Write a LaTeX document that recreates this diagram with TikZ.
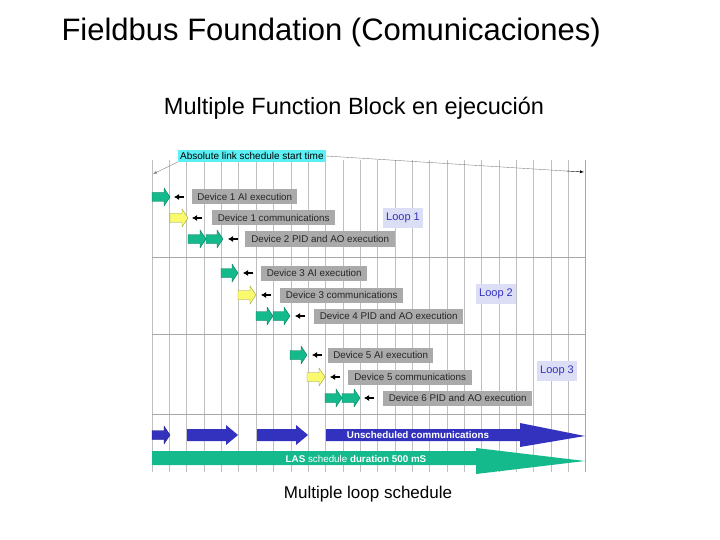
\documentclass[tikz,border=0pt]{standalone}
\usepackage{fontspec}
\usetikzlibrary{arrows.meta}
\setmainfont{Liberation Sans}
\definecolor{grn}{RGB}{20,185,140}
\definecolor{yel}{RGB}{250,250,110}
\definecolor{blu}{RGB}{50,50,190}
\definecolor{gbox}{RGB}{170,170,170}
\definecolor{lbox}{RGB}{220,222,245}
\definecolor{cyb}{RGB}{90,240,245}
\begin{document}
\begin{tikzpicture}[x=1pt,y=-1pt,
  lbl/.style={fill=gbox,anchor=west,inner sep=2pt,minimum height=15pt,font=\fontsize{9.8}{10}\selectfont,text=black!85},
  loopbox/.style={fill=lbox,inner sep=3pt,minimum height=20pt,font=\fontsize{11}{12}\selectfont,text=blu},
  grid/.style={gray!50,line width=0.6pt},
  pt/.style={-{Latex[length=5pt,width=6pt]},line width=1.3pt}]
\useasboundingbox (0,0) rectangle (720,540);
\node[anchor=west,font=\fontsize{31}{33}\selectfont] (t) at (58,32) {Fieldbus Foundation (Comunicaciones)};
\node[font=\fontsize{23.5}{25}\selectfont] (st) at (354,108) {Multiple Function Block en ejecución};
\node[font=\fontsize{17}{19}\selectfont] (bt) at (368,494) {Multiple loop schedule};
% grid
\foreach \i in {0,...,24} \draw[grid] (152+\i*17.35,160) -- (152+\i*17.35,472);
\draw[gray!70,line width=1pt] (585.7,160) -- (585.7,472);
\foreach \y in {257,334,414} \draw[gray!70,line width=1pt] (152,\y) -- (585.7,\y);
% top
\node[fill=cyb,anchor=west,inner sep=2pt,font=\fontsize{10}{11}\selectfont] (abs) at (178,156) {Absolute link schedule start time};
\coordinate (s0) at (153,174);
\coordinate (s1) at (566,171);
\coordinate (s2) at (584,172);
\draw[gray,-latex] (abs.south west) -- (s0);
\draw[gray] (abs.east) -- (s1);
\draw[-latex] (s1) -- (s2);
% arrow macro
\newcommand\barr[4]{% x0 x1 y color
  \fill[#4,draw=#4!60!black,line width=0.3pt] (#1,#3-4.5) -- (#2-6,#3-4.5) -- (#2-6,#3-9) -- (#2,#3) -- (#2-6,#3+9) -- (#2-6,#3+4.5) -- (#1,#3+4.5) -- cycle;}
\newcommand\pointer[2]{\draw[pt] (#1+10,#2) -- (#1,#2);}
% loop 1
\barr{152}{170}{197}{grn}
\barr{170}{188}{218}{yel}
\barr{188}{206}{239}{grn}\barr{206}{223}{239}{grn}
\pointer{174}{197}\pointer{192}{218}\pointer{228}{239}
\node[lbl,minimum width=105pt] (d1) at (192,197) {Device 1 AI execution};
\node[lbl,minimum width=123pt] (c1) at (212,218) {Device 1 communications};
\node[lbl,minimum width=150pt] (d2) at (245,239) {Device 2 PID and AO execution};
\node[loopbox] (l1) at (403,218) {Loop 1};
% loop 2
\barr{221}{238}{273}{grn}
\barr{238}{256}{295}{yel}
\barr{256}{273}{316}{grn}\barr{273}{290}{316}{grn}
\pointer{243}{273}\pointer{261}{295}\pointer{295}{316}
\node[lbl,minimum width=106pt] (d3) at (261,273) {Device 3 AI execution};
\node[lbl,minimum width=123pt] (c3) at (280,295) {Device 3 communications};
\node[lbl,minimum width=149pt] (d4) at (314,316) {Device 4 PID and AO execution};
\node[loopbox] (l2) at (496,294) {Loop 2};
% loop 3
\barr{290}{307}{355}{grn}
\barr{307}{325}{377}{yel}
\barr{325}{342}{398}{grn}\barr{342}{360}{398}{grn}
\pointer{312}{355}\pointer{330}{377}\pointer{364}{398}
\node[lbl,minimum width=105pt] (d5) at (328,355) {Device 5 AI execution};
\node[lbl,minimum width=124pt] (c5) at (348,377) {Device 5 communications};
\node[lbl,minimum width=149pt] (d6) at (383,398) {Device 6 PID and AO execution};
\node[loopbox] (l3) at (557,371) {Loop 3};
% unscheduled
\barr{152}{170}{435}{blu}
\fill[blu] (187,429) -- (226,429) -- (226,425) -- (238,435) -- (226,445) -- (226,441) -- (187,441) -- cycle;
\fill[blu] (257,429) -- (296,429) -- (296,425) -- (308,435) -- (296,445) -- (296,441) -- (257,441) -- cycle;
\fill[blu] (326,429) -- (520,429) -- (520,423) -- (585,436) -- (520,447) -- (520,441) -- (326,441) -- cycle;
\node[text=white,font=\bfseries\fontsize{9.8}{10}\selectfont] (un) at (418,435) {Unscheduled communications};
\fill[grn] (152,451) -- (476,451) -- (476,448) -- (585,461) -- (476,474) -- (476,465) -- (152,465) -- cycle;
\node[text=white,font=\fontsize{9.8}{10}\selectfont] (las) at (356,459) {\textbf{LAS} schedule \textbf{duration 500 mS}};
\end{tikzpicture}
\end{document}
